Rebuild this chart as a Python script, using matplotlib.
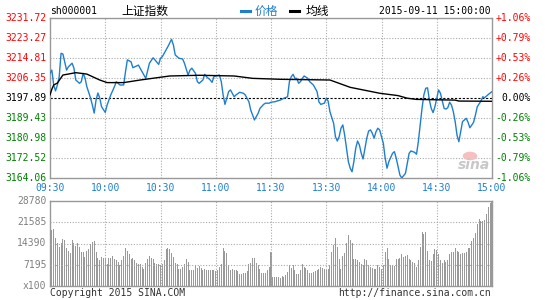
import matplotlib
matplotlib.use('Agg')
import matplotlib.pyplot as plt
from matplotlib.lines import Line2D
from matplotlib.patches import Circle
from matplotlib.transforms import blended_transform_factory

W, H = 545, 300
PREV = 3197.89

# minute index: 0 = 09:30, 120 = 11:30/13:00, 240 = 15:00
time_ticks = [0, 30, 60, 90, 120, 150, 180, 210, 240]
time_labels = ['09:30', '10:00', '10:30', '11:00', '11:30', '13:30', '14:00', '14:30', '15:00']

price_levels = [3231.72, 3223.27, 3214.81, 3206.35, 3197.89, 3189.43, 3180.98, 3172.52, 3164.06]
pct_labels = ['+1.06%', '+0.79%', '+0.53%', '+0.26%', '0.00%', '-0.26%', '-0.53%', '-0.79%', '-1.06%']

vol_levels = [28780, 21585, 14390, 7195, 0]
vol_labels = ['28780', '21585', '14390', '7195', 'x100']

price_t = [0, 1, 2, 3, 4, 5, 6, 7, 8, 9, 10, 12, 13, 14, 16, 17, 18, 19, 20, 22, 23, 24, 25, 26, 27,
           28, 30, 31, 33, 35, 36, 38, 40, 41, 42, 44, 45, 48, 50, 52, 54, 56, 57, 59, 60, 61,
           62, 64, 66, 67, 68, 70, 72, 73, 75, 76, 77, 79, 80, 81, 83, 84, 85, 87, 88, 89, 90,
           92, 93, 94, 95, 96, 97, 98, 100, 101, 103, 105, 106, 108, 109, 111, 113, 114, 116,
           117, 119, 120, 122, 125, 127, 129, 130, 131, 132, 133, 134, 135, 136, 137, 138, 140,
           141, 143, 145, 146, 147, 149, 150, 151, 152, 154, 155, 156, 157, 158, 159, 160, 161,
           162, 163, 164, 165, 166, 167, 168, 169, 170, 171, 172, 173, 174, 175, 176, 177, 178,
           179, 180, 181, 182, 183, 184, 186, 187, 188, 189, 190, 191, 193, 194, 195, 196, 198,
           199, 200, 201, 202, 203, 204, 205, 206, 207, 208, 209, 210, 211, 212, 213, 214, 215,
           216, 217, 218, 219, 220, 221, 222, 223, 224, 226, 227, 228, 230, 231, 232, 234, 235,
           236, 238, 240]
price_v = [3208.3, 3209.7, 3203.4, 3200.9, 3203.4, 3206.9, 3216.8, 3216.5, 3213.2, 3209.7, 3211.1,
           3212.6, 3210.5, 3205.5, 3204.1, 3204.8, 3208.3, 3206.4, 3202.7, 3197.9, 3194.9, 3191.5,
           3197.0, 3200.0, 3197.9, 3194.2, 3191.8, 3194.9, 3199.2, 3202.7, 3204.8, 3203.4, 3203.4,
           3209.0, 3214.0, 3213.2, 3210.7, 3211.8, 3209.0, 3206.2, 3212.6, 3214.9, 3214.0, 3212.1,
           3214.7, 3215.4,
           3216.8, 3219.6, 3222.7, 3220.3, 3216.1, 3214.7, 3214.4, 3212.6, 3207.6, 3209.7, 3210.5,
           3208.3, 3204.8, 3204.1, 3205.5, 3207.9, 3206.9, 3205.5, 3204.5, 3206.9, 3207.2, 3207.6,
           3204.8, 3199.2, 3195.2, 3197.8, 3200.6, 3201.3, 3198.4, 3199.2, 3200.3, 3199.9, 3199.2,
           3196.3, 3192.8, 3188.6, 3191.4, 3193.5, 3195.2, 3195.7, 3195.7, 3196.1,
           3196.3, 3197.0, 3197.8, 3198.4, 3204.8, 3206.9, 3207.9, 3206.2, 3206.2, 3204.1, 3204.8,
           3206.2, 3207.2, 3206.2, 3204.8, 3203.4, 3200.6, 3196.3, 3195.2, 3195.7, 3197.8, 3196.6,
           3192.1, 3187.2, 3181.5, 3179.7, 3181.5, 3185.1, 3186.5, 3182.2, 3176.6, 3171.0, 3168.2,
           3166.7, 3171.0, 3176.6, 3179.7, 3178.0, 3174.5, 3172.1, 3176.6, 3180.9, 3183.9, 3184.4,
           3183.0, 3180.9, 3183.6, 3185.1, 3184.4, 3181.5,
           3178.7, 3172.4, 3168.2, 3171.0, 3174.5, 3175.2, 3172.4, 3168.8, 3165.3, 3164.1, 3166.0,
           3170.3, 3174.5, 3175.5, 3174.9, 3174.1, 3179.4, 3186.5, 3193.5, 3199.2, 3202.0, 3202.2,
           3197.0, 3193.5, 3191.7, 3194.2, 3197.8, 3201.3, 3199.9, 3196.6, 3193.5, 3193.2, 3193.8,
           3196.1, 3194.9, 3192.1, 3187.9, 3182.2, 3179.4, 3183.6, 3187.9, 3189.3, 3187.6, 3185.3,
           3187.6, 3190.7, 3194.2, 3196.6, 3198.4, 3198.0, 3199.4, 3200.6]

avg_t = [0, 1, 2, 4, 7, 14, 20, 27, 31, 40, 49, 65, 81, 100, 110, 125, 152, 163, 179, 189, 194,
         199, 220, 222, 240]
avg_v = [3199.2, 3201.6, 3203.4, 3204.2, 3207.6, 3208.6, 3208.0, 3205.5, 3204.4, 3204.4, 3205.5,
         3207.2, 3207.5, 3207.2, 3206.2, 3205.8, 3205.5, 3202.4, 3199.9, 3198.9, 3197.8, 3197.3,
         3197.0, 3196.6, 3196.5]

# volume per minute (x100 shares), 09:30-11:30 then 13:01-15:00
vol_am = [27640, 19040, 19380, 16170, 14450, 13310, 14450, 15940, 15600, 12730,
          11930, 11010, 15490, 14450, 13650, 14450, 13310, 11590, 11360, 9860,
          11810, 12500, 14110, 15030, 15260, 11590, 9520, 8950, 9860, 9520,
          9520, 7570, 9520, 9520, 10210, 9290, 8720, 8140, 7230, 8720,
          10210, 12730, 11810, 10670, 9290, 9520, 8720, 7910, 7570, 7340,
          6420, 5850, 7910, 9290, 10210, 9520, 9060, 7910, 7340, 7570,
          7000, 7570, 8720, 12390, 12730, 12500, 11010, 9860, 7910, 7570,
          5850, 5850, 6420, 7570, 9290, 8140, 5510, 5510, 5510, 7230,
          6190, 6770, 6080, 5280, 5620, 5280, 5510, 5280, 5510, 5280,
          4930, 5280, 6420, 7570, 12960, 11810, 11010, 7000, 5280, 5620,
          5510, 5510, 4930, 4130, 4130, 4360, 4470, 4930, 7570, 7910,
          9520, 9520, 7910, 7000, 5620, 4470, 4470, 4470, 5280, 6420,
          11360]
vol_pm = [2980, 2980, 2980, 2980, 2750, 3330, 2980, 3790, 4700, 7000,
          6080, 7000, 5280, 4130, 4130, 5280, 7570, 6420, 6080, 5510,
          4470, 4470, 4700, 4930, 5280, 5850, 6420, 6080, 5850, 5280,
          5850, 7000, 11360, 13880, 16170, 13310, 9290, 5850, 10210, 11010,
          14450, 17320, 15600, 14450, 9290, 9290, 8720, 8140, 7570, 7230,
          9290, 8720, 7000, 6420, 6080, 5620, 5850, 7230, 6420, 5850,
          7230, 11590, 12730, 9290, 7230, 7000, 6770, 9290, 9290, 9520,
          10670, 9860, 10210, 10440, 9060, 8720, 8140, 7910, 6420, 8720,
          13310, 18240, 17550, 18240, 11810, 8720, 8370, 10670, 12500, 12160,
          10670, 8720, 7910, 8720, 8140, 8720, 10670, 11590, 11590, 12960,
          11810, 11360, 10670, 11010, 11010, 11360, 12730, 12960, 15260, 16170,
          17890, 20990, 22830, 21910, 21910, 22480, 24430, 26730, 28000, 28780]

BLUE = '#1f7fcf'
RED = '#ff0000'
GREEN = '#008000'
GRID = '#aaaaaa'
FRAME = '#999999'
MONO = 'DejaVu Sans Mono'
CJK = ['Noto Sans CJK SC', 'DejaVu Sans']


def fx(px):
    return px / W


def fy(py):
    return 1 - py / H


fig = plt.figure(figsize=(W / 100, H / 100), dpi=100)
ax = fig.add_axes([fx(50), fy(178), 442 / W, 160 / H])
vax = fig.add_axes([fx(50), fy(286), 442 / W, 85 / H])

for a in (ax, vax):
    a.set_xlim(0, 240)
    a.set_xticks([])
    a.set_yticks([])
    for s in a.spines.values():
        s.set_color(FRAME)
        s.set_linewidth(1.0)
    for t in time_ticks[1:-1]:
        a.axvline(t, color=GRID, lw=0.8, ls=(0, (1, 1.5)), zorder=3)

# price panel
ax.set_ylim(price_levels[-1], price_levels[0])
for lv in price_levels[1:-1]:
    if lv == PREV:
        continue
    ax.axhline(lv, color=GRID, lw=0.8, ls=(0, (1, 1.5)), zorder=1)
ax.axhline(PREV, color='black', lw=0.8, ls=(0, (2, 1.5)), zorder=2)
ax.plot(price_t, price_v, color=BLUE, lw=1.0, zorder=4)
ax.plot(avg_t, avg_v, color='black', lw=1.0, zorder=5)

left_tr = blended_transform_factory(fig.transFigure, ax.transData)
for lv, pl in zip(price_levels, pct_labels):
    c = RED if lv > PREV else (GREEN if lv < PREV else 'black')
    ax.text(fx(46.5), lv, '%.2f' % lv, transform=left_tr, ha='right', va='center',
            fontsize=7, family=MONO, color=c)
    ax.text(fx(531), lv, pl, transform=left_tr, ha='right', va='center',
            fontsize=7, family=MONO, color=c)

bot_tr = blended_transform_factory(ax.transData, fig.transFigure)
for t, lab in zip(time_ticks, time_labels):
    ax.text(t, fy(188), lab, transform=bot_tr, ha='center', va='center',
            fontsize=7, family=MONO, color=BLUE)

# watermark
ax.add_patch(Circle((fx(470), fy(156)), 0.012, transform=fig.transFigure,
                    color='#f6c0c0', zorder=2))
fig.text(fx(474), fy(165), 'sina', ha='center', va='center', fontsize=10,
         style='italic', weight='bold', color='#c8c8c8', zorder=2)

# volume panel
vax.set_ylim(0, vol_levels[0])
vol = vol_am + vol_pm
vax.bar(range(len(vol)), vol, width=0.55, color='#999999', zorder=2)
for lv in vol_levels[1:-1]:
    vax.axhline(lv, color=GRID, lw=0.8, ls=(0, (1, 1.5)), zorder=3)
vtr = blended_transform_factory(fig.transFigure, vax.transData)
for lv, lab in zip(vol_levels, vol_labels):
    vax.text(fx(46.5), lv, lab, transform=vtr, ha='right', va='center',
             fontsize=7, family=MONO, color='#808080')

# header
fig.text(fx(50), fy(11.5), 'sh000001', ha='left', va='center', fontsize=7, family=MONO)
fig.text(fx(121), fy(11.5), '上证指数', ha='left', va='center', fontsize=8.5, family=CJK)
fig.add_artist(Line2D([fx(241), fx(250)], [fy(11.3), fy(11.3)], lw=2.2, color=BLUE))
fig.text(fx(255), fy(11.5), '价格', ha='left', va='center', fontsize=8.5, family=CJK, color=BLUE)
fig.add_artist(Line2D([fx(290), fx(299)], [fy(11.3), fy(11.3)], lw=2.2, color='black'))
fig.text(fx(306), fy(11.5), '均线', ha='left', va='center', fontsize=8.5, family=CJK)
fig.text(fx(491), fy(11.5), '2015-09-11 15:00:00', ha='right', va='center', fontsize=7, family=MONO)

# footer
fig.text(fx(50), fy(292.5), 'Copyright 2015 SINA.COM', ha='left', va='center',
         fontsize=7, family=MONO, color='#333333')
fig.text(fx(491), fy(292.5), 'http://finance.sina.com.cn', ha='right', va='center',
         fontsize=7, family=MONO, color='#333333')

fig.savefig('out.png', dpi=100, facecolor='white')
